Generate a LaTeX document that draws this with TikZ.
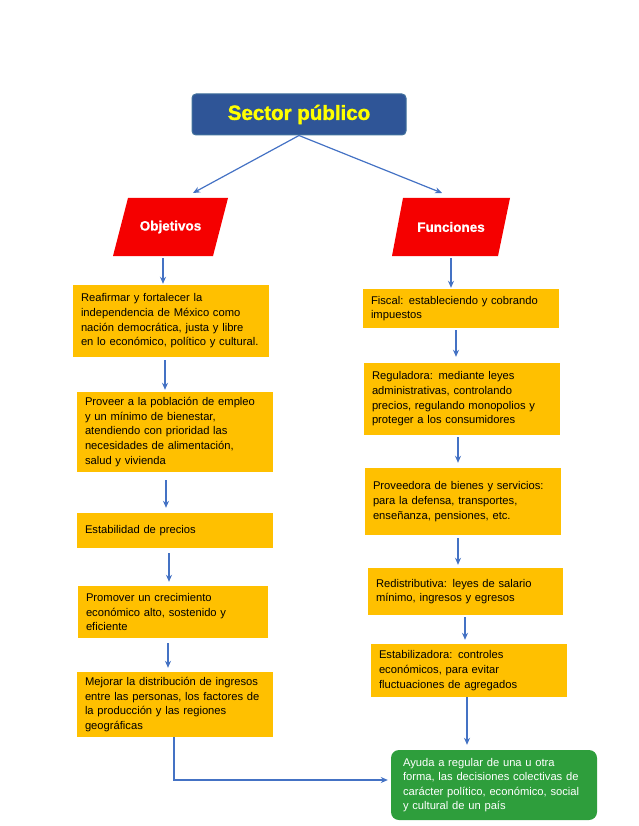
\documentclass[tikz,border=0pt]{standalone}
\usepackage{fontspec}
\setmainfont{Liberation Sans}
\newfontfamily\heavyfont[FakeBold=1.6]{Liberation Sans Bold}
\newfontfamily\semiheavyfont[FakeBold=0.8]{Liberation Sans Bold}
\usetikzlibrary{arrows.meta}
\definecolor{spblue}{HTML}{2F5597}
\definecolor{spborder}{HTML}{41719C}
\definecolor{spyellow}{HTML}{FFFF00}
\definecolor{boxorange}{HTML}{FFC000}
\definecolor{boxred}{HTML}{F50000}
\definecolor{boxgreen}{HTML}{2E9E3C}
\definecolor{arrowblue}{HTML}{4472C4}
\begin{document}
\begin{tikzpicture}[x=1pt,y=-1pt,
  obox/.style={rectangle, fill=boxorange, inner xsep=8pt, inner ysep=3pt, align=left,
    font=\fontsize{11.2}{14.6}\selectfont, text=black},
  paratext/.style={text=white, font=\semiheavyfont\fontsize{13.5}{16}\selectfont,
    minimum width=100pt, minimum height=58pt, inner sep=0pt},
  arr/.style={draw=arrowblue, line width=1.2pt, -{Stealth[length=7pt,width=6pt]}}
]
\useasboundingbox (0,0) rectangle (638,826);

\node[rectangle, rounded corners=4pt, fill=spblue, draw=spborder, line width=1pt,
  minimum width=214pt, minimum height=41pt, text=spyellow,
  font=\heavyfont\fontsize{20.5}{24}\selectfont] (sp) at (299,114.5) {Sector público};

% parallelograms
\fill[boxred] (128,198) -- (228,198) -- (213,256) -- (113,256) -- cycle;
\node[paratext] (obj) at (170.5,227) {Objetivos};
\fill[boxred] (403,198) -- (510,198) -- (498,256) -- (392,256) -- cycle;
\node[paratext] (fun) at (451,227) {Funciones};

% left column
\node[obox, text width=180pt, minimum height=72pt] (o1) at (171,321)
  {Reafirmar y fortalecer la\\independencia de México como\\nación democrática, justa y libre\\en lo económico, político y cultural.};
\node[obox, text width=180pt, minimum height=80pt] (o2) at (175,432)
  {Proveer a la población de empleo\\y un mínimo de bienestar,\\atendiendo con prioridad las\\necesidades de alimentación,\\salud y vivienda};
\node[obox, text width=180pt, minimum height=35pt] (o3) at (175,530.5)
  {Estabilidad de precios};
\node[obox, text width=174pt, minimum height=52pt] (o4) at (173,612)
  {Promover un crecimiento\\económico alto, sostenido y\\eficiente};
\node[obox, text width=180pt, minimum height=65pt] (o5) at (175,704.5)
  {Mejorar la distribución de ingresos\\entre las personas, los factores de\\la producción y las regiones\\geográficas};

% right column
\node[obox, text width=180pt, minimum height=39pt] (f1) at (461,308.5)
  {Fiscal: estableciendo y cobrando\\impuestos};
\node[obox, text width=180pt, minimum height=72pt] (f2) at (462,399)
  {Reguladora: mediante leyes\\administrativas, controlando\\precios, regulando monopolios y\\proteger a los consumidores};
\node[obox, text width=180pt, minimum height=67pt] (f3) at (463,501.5)
  {Proveedora de bienes y servicios:\\para la defensa, transportes,\\enseñanza, pensiones, etc.};
\node[obox, text width=179pt, minimum height=47pt] (f4) at (465.5,591.5)
  {Redistributiva: leyes de salario\\mínimo, ingresos y egresos};
\node[obox, text width=180pt, minimum height=53pt] (f5) at (469,670.5)
  {Estabilizadora: controles\\económicos, para evitar\\fluctuaciones de agregados};

\node[obox, fill=boxgreen, text=white, rounded corners=8pt, inner xsep=12pt,
  text width=182pt, minimum height=70pt] (gr) at (494,785)
  {Ayuda a regular de una u otra\\forma, las decisiones colectivas de\\carácter político, económico, social\\y cultural de un país};

% connectors
\draw[arr] (sp.south) -- ([xshift=22.5pt,yshift=34pt]obj.center);
\draw[arr] (sp.south) -- ([xshift=-9pt,yshift=34pt]fun.center);

\draw[arr] ([xshift=-7.5pt,yshift=-31pt]obj.center) -- ([xshift=-8pt,yshift=1pt]o1.north);
\draw[arr] ([xshift=-6pt,yshift=-3pt]o1.south) -- ([xshift=-10pt,yshift=2pt]o2.north);
\draw[arr] ([xshift=-9pt,yshift=-8pt]o2.south) -- ([xshift=-9pt,yshift=5pt]o3.north);
\draw[arr] ([xshift=-6pt,yshift=-5pt]o3.south) -- ([xshift=-4pt,yshift=4pt]o4.north);
\draw[arr] ([xshift=-5pt,yshift=-5pt]o4.south) -- ([xshift=-7pt,yshift=4pt]o5.north);
\draw[arr] ([xshift=-1pt]o5.south) |- ([xshift=-3pt,yshift=5pt]gr.west);

\draw[arr] ([yshift=-31pt]fun.center) -- ([xshift=-10pt,yshift=1pt]f1.north);
\draw[arr] ([xshift=-5pt,yshift=-2pt]f1.south) -- ([xshift=-6pt,yshift=6pt]f2.north);
\draw[arr] ([xshift=-4pt,yshift=-2pt]f2.south) -- ([xshift=-5pt,yshift=5pt]f3.north);
\draw[arr] ([xshift=-5pt,yshift=-3pt]f3.south) -- ([xshift=-7.5pt,yshift=3pt]f4.north);
\draw[arr] ([xshift=-0.5pt,yshift=-2pt]f4.south) -- ([xshift=-4pt,yshift=4pt]f5.north);
\draw[arr] ([xshift=-2pt]f5.south) -- ([xshift=-27pt,yshift=5pt]gr.north);
\end{tikzpicture}
\end{document}
